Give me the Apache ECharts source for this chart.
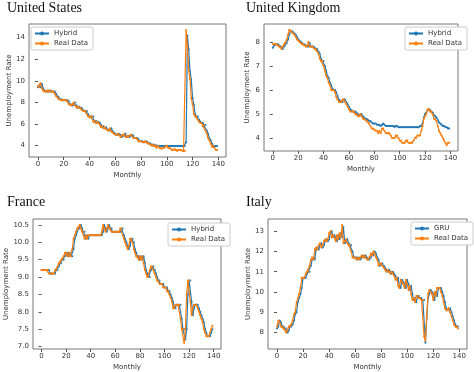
<!DOCTYPE html>
<html><head><meta charset="utf-8">
<script src="https://cdn.jsdelivr.net/npm/echarts@6/dist/echarts.min.js"></script>
<style>html,body{margin:0;padding:0;background:#fff}#c{width:474px;height:372px}</style>
</head><body><div id="c"></div>
<script>
// ---------- data ----------
const titles = ['United States', 'United Kingdom', 'France', 'Italy'];
const xTicks = [0, 20, 40, 60, 80, 100, 120, 140];
const usTicks = [4, 6, 8, 10, 12, 14];
const ukTicks = [4, 5, 6, 7, 8];
const frTicks = [7.0, 7.5, 8.0, 8.5, 9.0, 9.5, 10.0, 10.5];
const itTicks = [8, 9, 10, 11, 12, 13];

const usReal = [
 9.5,9.4,9.8,9.3,9.1,9.0,9.0,9.1,9.0,9.1,
 9.0,9.0,9.0,8.8,8.6,8.5,8.3,8.3,8.2,8.2,
 8.2,8.2,8.2,8.1,7.8,7.8,7.7,7.9,8.0,7.7,
 7.5,7.6,7.5,7.5,7.3,7.2,7.2,7.2,6.9,6.7,
 6.6,6.7,6.7,6.2,6.3,6.1,6.2,6.1,5.9,5.7,
 5.8,5.6,5.7,5.5,5.4,5.4,5.6,5.3,5.2,5.1,
 5.0,5.0,5.1,5.0,4.8,4.9,5.0,5.1,4.8,4.9,
 4.8,4.9,5.0,4.9,4.7,4.7,4.7,4.6,4.4,4.4,
 4.4,4.3,4.3,4.4,4.3,4.2,4.2,4.1,4.0,4.1,
 4.0,4.0,3.8,4.0,3.8,3.8,3.7,3.8,3.8,3.9,
 4.0,3.8,3.8,3.7,3.6,3.6,3.7,3.6,3.5,3.6,
 3.6,3.6,3.5,3.5,3.5,14.7,13.2,11.0,10.2,8.4,
 7.8,6.9,6.7,6.7,6.4,6.2,6.1,6.1,5.8,5.9,
 5.4,5.1,4.7,4.5,4.2,3.9,4.0,3.8,3.6,3.6];
const usHybrid = [
 9.4,9.5,9.4,9.7,9.3,9.1,9.0,9.0,9.1,9.0,
 9.1,9.0,9.0,9.0,8.8,8.6,8.5,8.3,8.3,8.2,
 8.2,8.2,8.2,8.2,8.1,7.8,7.8,7.7,7.9,8.0,
 7.7,7.5,7.6,7.5,7.5,7.3,7.2,7.2,7.2,6.9,
 6.7,6.6,6.7,6.7,6.2,6.3,6.1,6.2,6.1,5.9,
 5.7,5.8,5.6,5.7,5.5,5.4,5.4,5.6,5.3,5.2,
 5.1,5.0,5.0,5.1,5.0,4.8,4.9,5.0,5.1,4.8,
 4.9,4.8,4.9,5.0,4.9,4.7,4.7,4.7,4.6,4.4,
 4.4,4.4,4.3,4.3,4.4,4.3,4.2,4.2,4.1,4.0,
 4.1,4.0,4.0,3.95,3.95,3.95,3.95,3.95,3.95,3.95,
 3.95,3.95,3.95,3.95,3.95,3.95,3.95,3.95,3.95,3.95,
 3.95,3.95,3.95,3.95,3.95,4.3,14.2,12.9,10.9,10.1,
 8.4,7.8,6.9,6.7,6.7,6.4,6.2,6.1,6.1,5.8,
 5.9,5.4,5.1,4.7,4.5,4.2,3.95,3.95,3.95,3.95];

const ukReal = [
 7.9,7.9,7.9,7.9,7.85,7.8,7.75,7.7,7.8,7.9,
 7.95,8.1,8.3,8.5,8.45,8.4,8.35,8.3,8.2,8.1,
 8.05,8.0,7.95,7.9,7.9,7.85,7.8,7.8,8.0,7.8,
 7.8,7.8,7.75,7.7,7.7,7.6,7.5,7.3,7.2,7.2,
 7.0,6.8,6.6,6.5,6.3,6.2,6.0,6.0,6.0,5.9,
 5.7,5.6,5.5,5.5,5.5,5.6,5.6,5.5,5.4,5.3,
 5.2,5.1,5.1,5.1,5.1,5.0,5.0,4.9,4.9,5.0,
 4.9,4.8,4.8,4.75,4.7,4.65,4.6,4.5,4.4,4.4,
 4.35,4.3,4.3,4.2,4.3,4.2,4.4,4.4,4.3,4.2,
 4.2,4.2,4.2,4.1,4.0,4.0,4.0,4.1,4.1,4.0,
 3.9,3.9,3.8,3.8,3.8,3.9,3.9,3.8,3.8,3.8,
 3.8,3.9,4.0,4.0,4.1,4.1,4.1,4.3,4.5,4.8,
 4.9,5.0,5.2,5.2,5.1,5.1,5.0,4.8,4.8,4.7,
 4.5,4.3,4.2,4.1,4.0,3.9,3.8,3.7,3.8,3.8];
const ukHybrid = [
 7.75,7.85,7.9,7.9,7.9,7.85,7.8,7.75,7.7,7.8,
 7.9,7.95,8.1,8.3,8.45,8.45,8.4,8.35,8.3,8.2,
 8.1,8.05,8.0,7.95,7.9,7.9,7.85,7.8,7.8,7.95,
 7.8,7.8,7.8,7.75,7.7,7.7,7.6,7.5,7.3,7.2,
 7.2,7.0,6.8,6.6,6.5,6.3,6.2,6.05,6.0,6.0,
 5.9,5.75,5.6,5.55,5.5,5.5,5.6,5.6,5.5,5.4,
 5.3,5.2,5.15,5.1,5.1,5.1,5.05,5.0,4.95,4.95,
 5.0,4.9,4.85,4.8,4.8,4.75,4.7,4.7,4.65,4.6,
 4.6,4.6,4.55,4.55,4.55,4.5,4.55,4.6,4.55,4.5,
 4.5,4.5,4.5,4.5,4.5,4.5,4.45,4.5,4.5,4.45,
 4.45,4.45,4.45,4.45,4.45,4.45,4.45,4.45,4.45,4.45,
 4.45,4.45,4.45,4.45,4.45,4.45,4.5,4.5,4.6,4.85,
 5.0,5.05,5.15,5.2,5.15,5.1,5.05,4.95,4.9,4.85,
 4.75,4.65,4.6,4.55,4.5,4.5,4.45,4.45,4.4,4.4];

const frReal = [
 9.2,9.2,9.2,9.2,9.2,9.2,9.1,9.1,9.1,9.1,
 9.1,9.2,9.2,9.3,9.4,9.4,9.5,9.5,9.6,9.7,
 9.7,9.6,9.7,9.6,9.6,9.8,10.1,10.2,10.3,10.4,
 10.4,10.5,10.4,10.3,10.3,10.1,10.2,10.1,10.2,10.2,
 10.2,10.2,10.2,10.2,10.2,10.2,10.2,10.2,10.2,10.3,
 10.5,10.4,10.3,10.4,10.5,10.4,10.4,10.3,10.3,10.3,
 10.3,10.3,10.3,10.3,10.4,10.4,10.2,10.1,10.0,9.9,
 9.8,9.9,10.1,10.1,10.0,9.8,9.7,9.6,9.6,9.5,
 9.6,9.5,9.6,9.4,9.2,9.1,9.0,9.0,9.2,9.3,
 9.3,9.2,9.1,9.0,8.9,8.9,8.8,8.8,8.8,8.7,
 8.7,8.7,8.6,8.6,8.5,8.4,8.3,8.1,8.1,8.2,
 8.2,8.2,8.2,7.8,7.5,7.5,7.1,7.5,8.5,8.9,
 8.9,8.3,7.9,8.1,8.2,8.2,8.2,8.1,8.0,7.9,
 7.8,7.7,7.5,7.4,7.3,7.3,7.3,7.4,7.5,7.6];
const frHybrid = [
 9.2,9.2,9.2,9.2,9.2,9.2,9.2,9.1,9.1,9.1,
 9.1,9.1,9.2,9.2,9.3,9.4,9.4,9.5,9.5,9.6,
 9.7,9.7,9.6,9.7,9.6,9.6,9.8,10.1,10.2,10.3,
 10.4,10.4,10.5,10.4,10.3,10.3,10.1,10.2,10.1,10.2,
 10.2,10.2,10.2,10.2,10.2,10.2,10.2,10.2,10.2,10.2,
 10.3,10.5,10.4,10.3,10.4,10.5,10.4,10.4,10.3,10.3,
 10.3,10.3,10.3,10.3,10.3,10.4,10.4,10.2,10.1,10.0,
 9.9,9.8,9.9,10.1,10.1,10.0,9.8,9.7,9.6,9.6,
 9.5,9.6,9.5,9.6,9.4,9.2,9.1,9.0,9.0,9.2,
 9.3,9.3,9.2,9.1,9.0,8.9,8.9,8.8,8.8,8.8,
 8.7,8.7,8.7,8.6,8.6,8.5,8.4,8.3,8.1,8.1,
 8.2,8.2,8.2,8.2,7.8,7.5,7.5,7.2,7.5,8.5,
 8.9,8.9,8.3,7.9,8.1,8.2,8.2,8.2,8.1,8.0,
 7.9,7.8,7.7,7.5,7.4,7.3,7.3,7.3,7.4,7.5];

const itReal = [
 8.3,8.6,8.5,8.3,8.3,8.2,8.2,8.0,8.1,8.3,
 8.3,8.4,8.6,8.9,9.0,9.5,9.7,9.9,10.2,10.7,
 10.7,10.7,10.9,11.0,11.0,11.3,11.6,11.7,11.6,12.1,
 12.2,12.1,12.3,12.4,12.2,12.3,12.5,12.6,12.5,12.6,
 12.9,13.0,12.7,12.8,12.7,12.5,12.8,12.6,12.9,12.7,
 13.3,12.4,12.5,12.6,12.4,12.3,12.3,12.0,11.7,11.7,
 11.7,11.6,11.7,11.6,11.7,11.8,11.7,11.8,11.7,11.6,
 11.6,11.7,11.9,11.8,12.0,11.9,11.7,11.6,11.3,11.4,
 11.4,11.3,11.2,11.1,11.0,11.1,11.0,10.9,11.0,10.9,
 10.8,10.6,10.7,10.3,10.2,10.6,10.5,10.4,10.2,10.6,
 10.4,10.1,10.3,9.9,9.6,9.7,9.5,9.8,9.8,9.7,
 9.7,9.6,9.6,7.8,7.6,8.8,9.9,10.1,10.0,9.9,
 9.6,10.0,9.8,10.2,10.2,10.2,10.0,9.8,9.5,9.2,
 9.1,9.1,9.2,9.0,8.8,8.6,8.4,8.3,8.3,8.2];
const itGru = [
 8.2,8.3,8.6,8.5,8.3,8.3,8.2,8.2,8.0,8.1,
 8.3,8.3,8.4,8.6,8.9,9.0,9.5,9.7,9.9,10.2,
 10.7,10.7,10.7,10.9,11.0,11.0,11.3,11.6,11.7,11.6,
 12.1,12.2,12.1,12.3,12.4,12.2,12.3,12.5,12.6,12.5,
 12.6,12.9,13.0,12.7,12.8,12.7,12.5,12.8,12.6,12.9,
 12.7,13.2,12.4,12.5,12.6,12.4,12.3,12.3,12.0,11.7,
 11.7,11.7,11.6,11.7,11.6,11.7,11.8,11.7,11.8,11.7,
 11.6,11.6,11.7,11.9,11.8,12.0,11.9,11.7,11.6,11.3,
 11.4,11.4,11.3,11.2,11.1,11.0,11.1,11.0,10.9,11.0,
 10.9,10.8,10.6,10.7,10.3,10.2,10.6,10.5,10.4,10.2,
 10.6,10.4,10.1,10.3,9.9,9.6,9.7,9.5,9.8,9.8,
 9.7,9.7,9.6,9.6,7.5,8.7,9.7,9.9,10.1,10.0,
 9.9,9.6,10.0,9.8,10.2,10.2,10.2,10.0,9.8,9.5,
 9.2,9.1,9.1,9.2,9.0,8.8,8.6,8.4,8.3,8.3];

// ---------- chart ----------
const BLUE = '#1f77b4', ORANGE = '#ff7f0e';
const tickFont = {fontFamily: 'DejaVu Sans', fontSize: 7, color: '#333'};
const grids = [
  {left: 29, top: 24, width: 197, height: 133},
  {left: 264, top: 24, width: 194, height: 127},
  {left: 33, top: 219, width: 188, height: 133},
  {left: 268, top: 219, width: 199, height: 133}
];
const yCfg = [
  {min: 2.94, max: 15.26, ticks: usTicks, gap: 15, dec: 0},
  {min: 3.46, max: 8.74, ticks: ukTicks, gap: 13, dec: 0},
  {min: 6.93, max: 10.67, ticks: frTicks, gap: 20, dec: 1},
  {min: 7.19, max: 13.6, ticks: itTicks, gap: 15, dec: 0}
];
const panels = [
  [['Hybrid', usHybrid], ['Real Data', usReal]],
  [['Hybrid', ukHybrid], ['Real Data', ukReal]],
  [['Hybrid', frHybrid], ['Real Data', frReal]],
  [['GRU', itGru], ['Real Data', itReal]]
];
const legendPos = [
  {left: 31, top: 27},
  {left: 405, top: 27},
  {left: 168, top: 223},
  {left: 411, top: 222}
];
const titlePos = [[7, 1], [246, 1], [7, 195], [246, 195]];

const xAxis = grids.map((g, i) => ({
  gridIndex: i, type: 'value', min: -6.95, max: 145.95,
  name: 'Monthly', nameLocation: 'middle', nameGap: 15,
  nameTextStyle: {fontFamily: 'DejaVu Sans', fontSize: 7, color: '#333'},
  axisLine: {show: false}, splitLine: {show: false},
  axisTick: {show: true, customValues: xTicks, length: 3, lineStyle: {color: '#555'}},
  axisLabel: {customValues: xTicks, margin: 4, ...tickFont}
}));
const yAxis = yCfg.map((c, i) => ({
  gridIndex: i, type: 'value', min: c.min, max: c.max,
  name: 'Unemployment Rate', nameLocation: 'middle', nameRotate: 90, nameGap: c.gap,
  nameTextStyle: {fontFamily: 'DejaVu Sans', fontSize: 7, color: '#333'},
  axisLine: {show: false}, splitLine: {show: false},
  axisTick: {show: true, customValues: c.ticks, length: 3, lineStyle: {color: '#555'}},
  axisLabel: {customValues: c.ticks, margin: 4, formatter: v => (+v).toFixed(c.dec), ...tickFont}
}));
const series = [];
panels.forEach((p, i) => {
  p.forEach(([name, arr], k) => {
    series.push({
      name, type: 'line', xAxisIndex: i, yAxisIndex: i,
      data: arr.map((v, j) => [j, v]),
      symbol: 'circle', symbolSize: 2, showSymbol: true,
      lineStyle: {width: 1.2, color: k ? ORANGE : BLUE},
      itemStyle: {color: k ? ORANGE : BLUE, borderWidth: 0},
      emphasis: {disabled: true},
      z: 2 + k, animation: false
    });
  });
});
const legend = panels.map((p, i) => ({
  orient: 'vertical', ...legendPos[i],
  data: p.map(s => s[0]),
  backgroundColor: '#fff', borderColor: '#ccc', borderWidth: 1, borderRadius: 2,
  shadowBlur: 0, shadowColor: 'transparent', shadowOffsetX: 0, shadowOffsetY: 0,
  padding: [3, 5, 3, 3], itemGap: 3, itemWidth: 14, itemHeight: 5,
  selectedMode: false,
  textStyle: {fontFamily: 'DejaVu Sans', fontSize: 7, color: '#333'}
}));
const title = titles.map((t, i) => ({
  text: t, left: titlePos[i][0], top: titlePos[i][1], padding: 0,
  textStyle: {fontFamily: 'Liberation Serif', fontSize: 14, fontWeight: 'normal', color: '#111'}
}));

const chart = echarts.init(document.getElementById('c'), null, {renderer: 'canvas'});
chart.setOption({
  animation: false,
  backgroundColor: '#fff',
  title,
  legend,
  grid: grids.map(g => ({...g, show: true, borderColor: '#777', borderWidth: 1,
    backgroundColor: 'transparent', shadowBlur: 0, shadowColor: 'transparent',
    shadowOffsetX: 0, shadowOffsetY: 0})),
  xAxis, yAxis, series
});
</script></body></html>
